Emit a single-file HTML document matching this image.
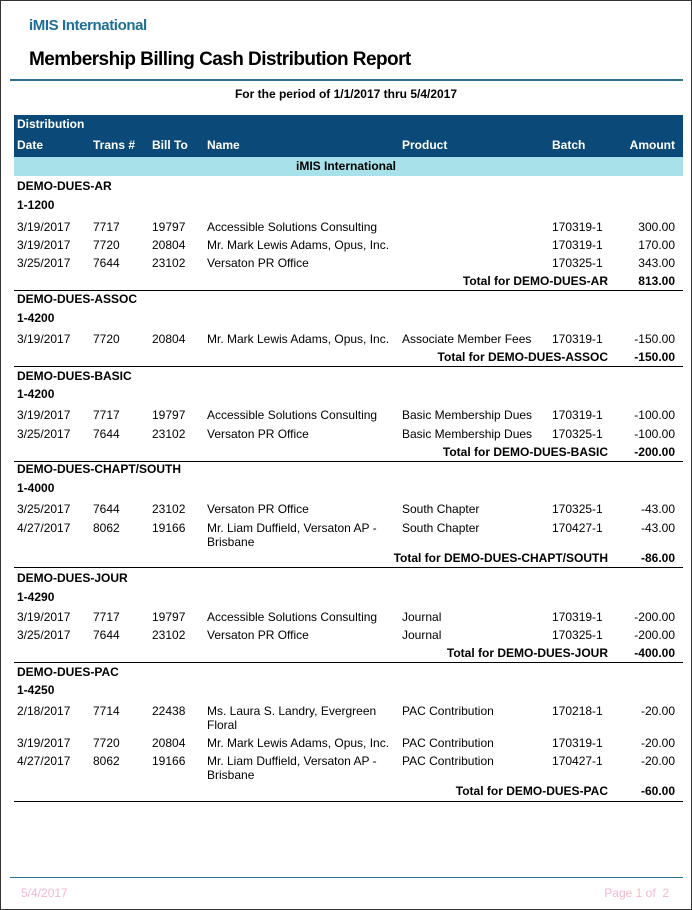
<!DOCTYPE html>
<html><head><meta charset="utf-8"><style>
*{margin:0;padding:0;box-sizing:border-box}
body{width:692px;height:910px;position:relative;background:#fff;font-family:"Liberation Sans",Arial,sans-serif;font-size:12px;color:#000;overflow:hidden}
.frame{position:absolute;left:0;top:0;width:692px;height:910px;border:1px solid #333}
.t{position:absolute;white-space:nowrap;line-height:14px}
.b{font-weight:bold}
.r{text-align:right}
.hl{position:absolute;left:14px;width:669px;height:1px;background:#000}
</style></head><body>
<div class="frame"></div>
<div class="t b" style="left:29px;top:17px;font-size:15px;line-height:18px;color:#1e6f95;letter-spacing:-0.4px">iMIS International</div>
<div class="t b" style="left:29px;top:49px;font-size:19px;line-height:22px;letter-spacing:-0.55px">Membership Billing Cash Distribution Report</div>
<div style="position:absolute;left:10px;top:79px;width:673px;height:2px;background:#2e6e90"></div>
<div class="t b" style="left:0;width:692px;text-align:center;top:87px">For the period of 1/1/2017 thru 5/4/2017</div>
<div style="position:absolute;left:14px;top:115px;width:669px;height:42px;background:#0b4a78"></div>
<div style="position:absolute;left:14px;top:157px;width:669px;height:19px;background:#a8e1ea"></div>
<div class="t b" style="left:17px;top:117px;color:#fff">Distribution</div>
<div class="t b" style="left:17px;top:138px;color:#fff">Date</div>
<div class="t b" style="left:93px;top:138px;color:#fff">Trans #</div>
<div class="t b" style="left:152px;top:138px;color:#fff">Bill To</div>
<div class="t b" style="left:207px;top:138px;color:#fff">Name</div>
<div class="t b" style="left:402px;top:138px;color:#fff">Product</div>
<div class="t b" style="left:552px;top:138px;color:#fff">Batch</div>
<div class="t b r" style="left:575px;width:100px;top:138px;color:#fff">Amount</div>
<div class="t b" style="left:0;width:692px;text-align:center;top:159px">iMIS International</div>

<div class="t b" style="left:17px;top:179px">DEMO-DUES-AR</div>
<div class="t b" style="left:17px;top:198px">1-1200</div>
<div class="t" style="left:17px;top:220px">3/19/2017</div><div class="t" style="left:93px;top:220px">7717</div><div class="t" style="left:152px;top:220px">19797</div><div class="t" style="left:207px;top:220px">Accessible Solutions Consulting</div><div class="t" style="left:552px;top:220px">170319-1</div><div class="t r" style="left:575px;width:100px;top:220px">300.00</div>
<div class="t" style="left:17px;top:238px">3/19/2017</div><div class="t" style="left:93px;top:238px">7720</div><div class="t" style="left:152px;top:238px">20804</div><div class="t" style="left:207px;top:238px">Mr. Mark Lewis Adams, Opus, Inc.</div><div class="t" style="left:552px;top:238px">170319-1</div><div class="t r" style="left:575px;width:100px;top:238px">170.00</div>
<div class="t" style="left:17px;top:256px">3/25/2017</div><div class="t" style="left:93px;top:256px">7644</div><div class="t" style="left:152px;top:256px">23102</div><div class="t" style="left:207px;top:256px">Versaton PR Office</div><div class="t" style="left:552px;top:256px">170325-1</div><div class="t r" style="left:575px;width:100px;top:256px">343.00</div>
<div class="t b r" style="left:300px;width:308px;top:274px">Total for DEMO-DUES-AR</div><div class="t b r" style="left:575px;width:100px;top:274px">813.00</div>
<div class="hl" style="top:290px"></div>

<div class="t b" style="left:17px;top:292px">DEMO-DUES-ASSOC</div>
<div class="t b" style="left:17px;top:311px">1-4200</div>
<div class="t" style="left:17px;top:332px">3/19/2017</div><div class="t" style="left:93px;top:332px">7720</div><div class="t" style="left:152px;top:332px">20804</div><div class="t" style="left:207px;top:332px">Mr. Mark Lewis Adams, Opus, Inc.</div><div class="t" style="left:402px;top:332px">Associate Member Fees</div><div class="t" style="left:552px;top:332px">170319-1</div><div class="t r" style="left:575px;width:100px;top:332px">-150.00</div>
<div class="t b r" style="left:300px;width:308px;top:350px">Total for DEMO-DUES-ASSOC</div><div class="t b r" style="left:575px;width:100px;top:350px">-150.00</div>
<div class="hl" style="top:366px"></div>

<div class="t b" style="left:17px;top:369px">DEMO-DUES-BASIC</div>
<div class="t b" style="left:17px;top:387px">1-4200</div>
<div class="t" style="left:17px;top:408px">3/19/2017</div><div class="t" style="left:93px;top:408px">7717</div><div class="t" style="left:152px;top:408px">19797</div><div class="t" style="left:207px;top:408px">Accessible Solutions Consulting</div><div class="t" style="left:402px;top:408px">Basic Membership Dues</div><div class="t" style="left:552px;top:408px">170319-1</div><div class="t r" style="left:575px;width:100px;top:408px">-100.00</div>
<div class="t" style="left:17px;top:427px">3/25/2017</div><div class="t" style="left:93px;top:427px">7644</div><div class="t" style="left:152px;top:427px">23102</div><div class="t" style="left:207px;top:427px">Versaton PR Office</div><div class="t" style="left:402px;top:427px">Basic Membership Dues</div><div class="t" style="left:552px;top:427px">170325-1</div><div class="t r" style="left:575px;width:100px;top:427px">-100.00</div>
<div class="t b r" style="left:300px;width:308px;top:445px">Total for DEMO-DUES-BASIC</div><div class="t b r" style="left:575px;width:100px;top:445px">-200.00</div>
<div class="hl" style="top:461px"></div>

<div class="t b" style="left:17px;top:462px">DEMO-DUES-CHAPT/SOUTH</div>
<div class="t b" style="left:17px;top:481px">1-4000</div>
<div class="t" style="left:17px;top:502px">3/25/2017</div><div class="t" style="left:93px;top:502px">7644</div><div class="t" style="left:152px;top:502px">23102</div><div class="t" style="left:207px;top:502px">Versaton PR Office</div><div class="t" style="left:402px;top:502px">South Chapter</div><div class="t" style="left:552px;top:502px">170325-1</div><div class="t r" style="left:575px;width:100px;top:502px">-43.00</div>
<div class="t" style="left:17px;top:521px">4/27/2017</div><div class="t" style="left:93px;top:521px">8062</div><div class="t" style="left:152px;top:521px">19166</div><div class="t" style="left:207px;top:521px">Mr. Liam Duffield, Versaton AP -<br>Brisbane</div><div class="t" style="left:402px;top:521px">South Chapter</div><div class="t" style="left:552px;top:521px">170427-1</div><div class="t r" style="left:575px;width:100px;top:521px">-43.00</div>
<div class="t b r" style="left:300px;width:308px;top:551px">Total for DEMO-DUES-CHAPT/SOUTH</div><div class="t b r" style="left:575px;width:100px;top:551px">-86.00</div>
<div class="hl" style="top:567px"></div>

<div class="t b" style="left:17px;top:571px">DEMO-DUES-JOUR</div>
<div class="t b" style="left:17px;top:590px">1-4290</div>
<div class="t" style="left:17px;top:610px">3/19/2017</div><div class="t" style="left:93px;top:610px">7717</div><div class="t" style="left:152px;top:610px">19797</div><div class="t" style="left:207px;top:610px">Accessible Solutions Consulting</div><div class="t" style="left:402px;top:610px">Journal</div><div class="t" style="left:552px;top:610px">170319-1</div><div class="t r" style="left:575px;width:100px;top:610px">-200.00</div>
<div class="t" style="left:17px;top:628px">3/25/2017</div><div class="t" style="left:93px;top:628px">7644</div><div class="t" style="left:152px;top:628px">23102</div><div class="t" style="left:207px;top:628px">Versaton PR Office</div><div class="t" style="left:402px;top:628px">Journal</div><div class="t" style="left:552px;top:628px">170325-1</div><div class="t r" style="left:575px;width:100px;top:628px">-200.00</div>
<div class="t b r" style="left:300px;width:308px;top:646px">Total for DEMO-DUES-JOUR</div><div class="t b r" style="left:575px;width:100px;top:646px">-400.00</div>
<div class="hl" style="top:662px"></div>

<div class="t b" style="left:17px;top:665px">DEMO-DUES-PAC</div>
<div class="t b" style="left:17px;top:683px">1-4250</div>
<div class="t" style="left:17px;top:704px">2/18/2017</div><div class="t" style="left:93px;top:704px">7714</div><div class="t" style="left:152px;top:704px">22438</div><div class="t" style="left:207px;top:704px">Ms. Laura S. Landry, Evergreen<br>Floral</div><div class="t" style="left:402px;top:704px">PAC Contribution</div><div class="t" style="left:552px;top:704px">170218-1</div><div class="t r" style="left:575px;width:100px;top:704px">-20.00</div>
<div class="t" style="left:17px;top:736px">3/19/2017</div><div class="t" style="left:93px;top:736px">7720</div><div class="t" style="left:152px;top:736px">20804</div><div class="t" style="left:207px;top:736px">Mr. Mark Lewis Adams, Opus, Inc.</div><div class="t" style="left:402px;top:736px">PAC Contribution</div><div class="t" style="left:552px;top:736px">170319-1</div><div class="t r" style="left:575px;width:100px;top:736px">-20.00</div>
<div class="t" style="left:17px;top:754px">4/27/2017</div><div class="t" style="left:93px;top:754px">8062</div><div class="t" style="left:152px;top:754px">19166</div><div class="t" style="left:207px;top:754px">Mr. Liam Duffield, Versaton AP -<br>Brisbane</div><div class="t" style="left:402px;top:754px">PAC Contribution</div><div class="t" style="left:552px;top:754px">170427-1</div><div class="t r" style="left:575px;width:100px;top:754px">-20.00</div>
<div class="t b r" style="left:300px;width:308px;top:784px">Total for DEMO-DUES-PAC</div><div class="t b r" style="left:575px;width:100px;top:784px">-60.00</div>
<div class="hl" style="top:801px"></div>

<div style="position:absolute;left:10px;top:877px;width:673px;height:1px;background:#2e6e90"></div>
<div class="t" style="left:21px;top:886px;color:#f4b8c8">5/4/2017</div>
<div class="t r" style="left:560px;width:109px;top:886px;color:#f4b8c8">Page 1 of &nbsp;2</div>
</body></html>
